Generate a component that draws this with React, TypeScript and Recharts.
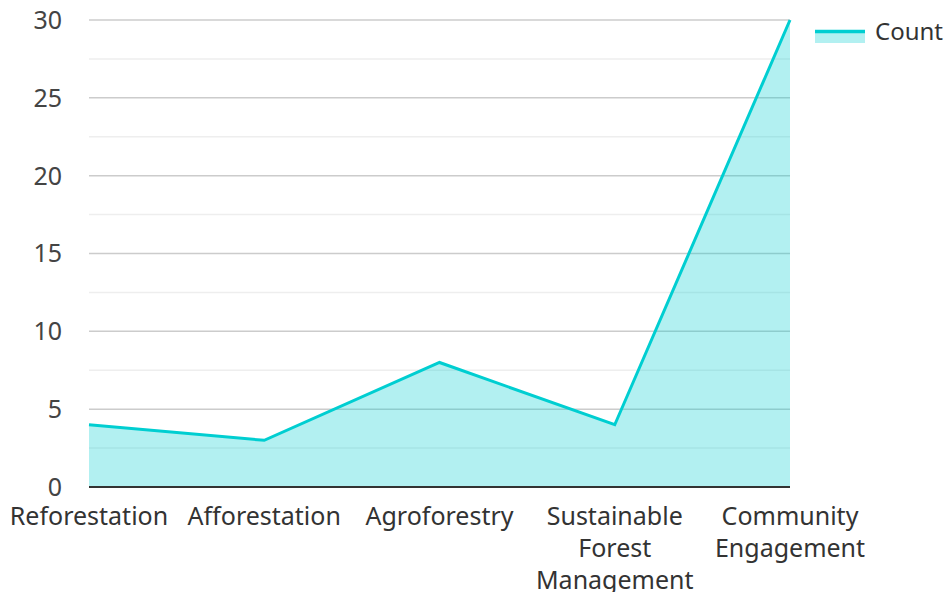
import { AreaChart, Area, XAxis, YAxis, CartesianGrid } from 'recharts';

const categories = [
  'Reforestation',
  'Afforestation',
  'Agroforestry',
  'Sustainable Forest Management',
  'Community Engagement',
];
const counts = [4, 3, 8, 4, 30];
const yTicks = [0, 5, 10, 15, 20, 25, 30];
const minorGrid = [2.5, 7.5, 12.5, 17.5, 22.5, 27.5];

const data = categories.map((name, i) => ({ name, Count: counts[i] }));

const TEAL = '#00CED1';
const FONT = '"Noto Sans", sans-serif';

const XTick = ({ x, y, payload }: any) => {
  const lines = String(payload.value).split(' ');
  return (
    <text x={x} y={y} textAnchor="middle" fill="#333" fontSize={25} fontFamily={FONT}>
      {lines.map((l, i) => (
        <tspan key={i} x={x} dy={i === 0 ? 30 : 32}>
          {l}
        </tspan>
      ))}
    </text>
  );
};

export default function App() {
  return (
    <div style={{ position: 'absolute', left: 0, top: 0, width: 947, height: 592 }}>
      <AreaChart width={947} height={592} data={data} margin={{ top: 20, right: 157, bottom: 75, left: 0 }}>
        <CartesianGrid vertical={false} horizontalValues={minorGrid} stroke="#eeeeee" strokeWidth={1.5} />
        <CartesianGrid vertical={false} horizontalValues={yTicks} stroke="#cccccc" strokeWidth={1.5} />
        <XAxis
          dataKey="name"
          height={30}
          tickLine={false}
          tickSize={0}
          tickMargin={8}
          axisLine={{ stroke: '#333', strokeWidth: 2 }}
          tick={<XTick />}
          interval={0}
        />
        <YAxis
          width={89}
          domain={[0, 30]}
          ticks={yTicks}
          axisLine={false}
          tickLine={false}
          tickSize={0}
          tickMargin={27}
          tick={{ fill: '#444', fontSize: 25, fontFamily: FONT }}
        />
        <Area
          type="linear"
          dataKey="Count"
          stroke={TEAL}
          strokeWidth={3}
          fill={TEAL}
          fillOpacity={0.3}
          dot={false}
          activeDot={false}
          isAnimationActive={false}
        />
      </AreaChart>
      {/* legend sits outside the chart so it doesn't eat plot space */}
      <div
        style={{
          position: 'absolute',
          left: 815,
          top: 14,
          display: 'flex',
          alignItems: 'center',
          fontFamily: FONT,
          fontSize: 24,
          color: '#333',
        }}
      >
        <svg width={50} height={30} style={{ marginRight: 10 }}>
          <rect x={0} y={17} width={50} height={10} fill={TEAL} fillOpacity={0.3} />
          <line x1={0} y1={15.5} x2={50} y2={15.5} stroke={TEAL} strokeWidth={3.5} />
        </svg>
        <span>Count</span>
      </div>
    </div>
  );
}
